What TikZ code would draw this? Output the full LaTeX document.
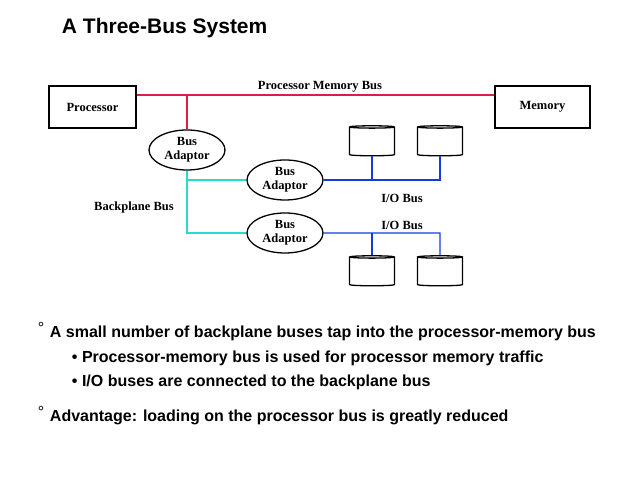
\documentclass[tikz,border=0pt]{standalone}
\usepackage{fontspec}
\setmainfont{Liberation Serif}
\newfontfamily\sans{Liberation Sans}
\usetikzlibrary{shapes.geometric}
\definecolor{busred}{RGB}{220,30,70}
\definecolor{buscyan}{RGB}{40,220,200}
\definecolor{busblue}{RGB}{20,60,220}
\begin{document}
\begin{tikzpicture}[x=1pt,y=-1pt,line width=1.3pt,
  box/.style={draw,line width=1.3pt,minimum height=42pt,font=\bfseries\fontsize{12.5}{14}\selectfont},
  ad/.style={draw,line width=1.3pt,ellipse,minimum width=76pt,minimum height=40pt,inner sep=0pt,align=center,font=\bfseries\fontsize{12.5}{14}\selectfont,fill=white},
  lbl/.style={font=\bfseries\fontsize{12.5}{14}\selectfont},
  bl/.style={font=\sans\bfseries\fontsize{16}{18}\selectfont,anchor=west},
  disk/.style={draw,line width=1.3pt,cylinder,shape border rotate=90,aspect=0.35,minimum width=45pt,minimum height=30pt}]
\useasboundingbox (0,0) rectangle (638,478);
\node[font=\sans\bfseries\fontsize{21}{23}\selectfont,anchor=west] (t) at (58,28) {A Three-Bus System};
\node[box,minimum width=87pt] (p) at (92.5,107) {Processor};
\node[box,minimum width=95pt] (m) at (542.5,107) {Memory};
\coordinate (r1) at (187,95);
\draw[busred] (p.east|-r1) -- (m.west|-r1);
\node[lbl] (pmb) at (320,87) {Processor Memory Bus};
\node[ad] (a1) at (187,150) {Bus\\Adaptor};
\node[ad] (a2) at (285,180) {Bus\\Adaptor};
\node[ad] (a3) at (285,233) {Bus\\Adaptor};
\draw[busred] (r1) -- (a1.north);
\coordinate (c1) at (187,180); \coordinate (c2) at (187,233);
\draw[buscyan] (a1.south) -- (c2) -- (a3.west);
\draw[buscyan] (c1) -- (a2.west);
\node[lbl] (bb) at (134,207) {Backplane Bus};
\node[disk] (d1) at (372,142) {};
\node[disk] (d2) at (440,142) {};
\node[disk] (d3) at (372,272) {};
\node[disk] (d4) at (440,272) {};
\coordinate (b1) at (440,180); \coordinate (b2) at (440,233);
\draw[busblue] (a2.east) -- (b1) -- (d2.south);
\draw[busblue] (d1.south) -- (d1.south|-b1);
\draw[busblue] (a3.east) -- (b2) -- (d4.north);
\draw[busblue] (d3.north) -- (d3.north|-b2);
\node[lbl] (io1) at (402,198) {I/O Bus};
\node[lbl] (io2) at (402,225) {I/O Bus};
\node[font=\sans\fontsize{16}{16}\selectfont] (o1) at (41,328) {°};
\node[bl] (l1) at (46,333) {A small number of backplane buses tap into the processor-memory bus};
\node[bl] (l2) at (68,358) {• Processor-memory bus is used for processor memory traffic};
\node[bl] (l3) at (68,382) {• I/O buses are connected to the backplane bus};
\node[font=\sans\fontsize{16}{16}\selectfont] (o2) at (41,412) {°};
\node[bl] (l4) at (46,417) {Advantage: loading on the processor bus is greatly reduced};
\end{tikzpicture}
\end{document}
